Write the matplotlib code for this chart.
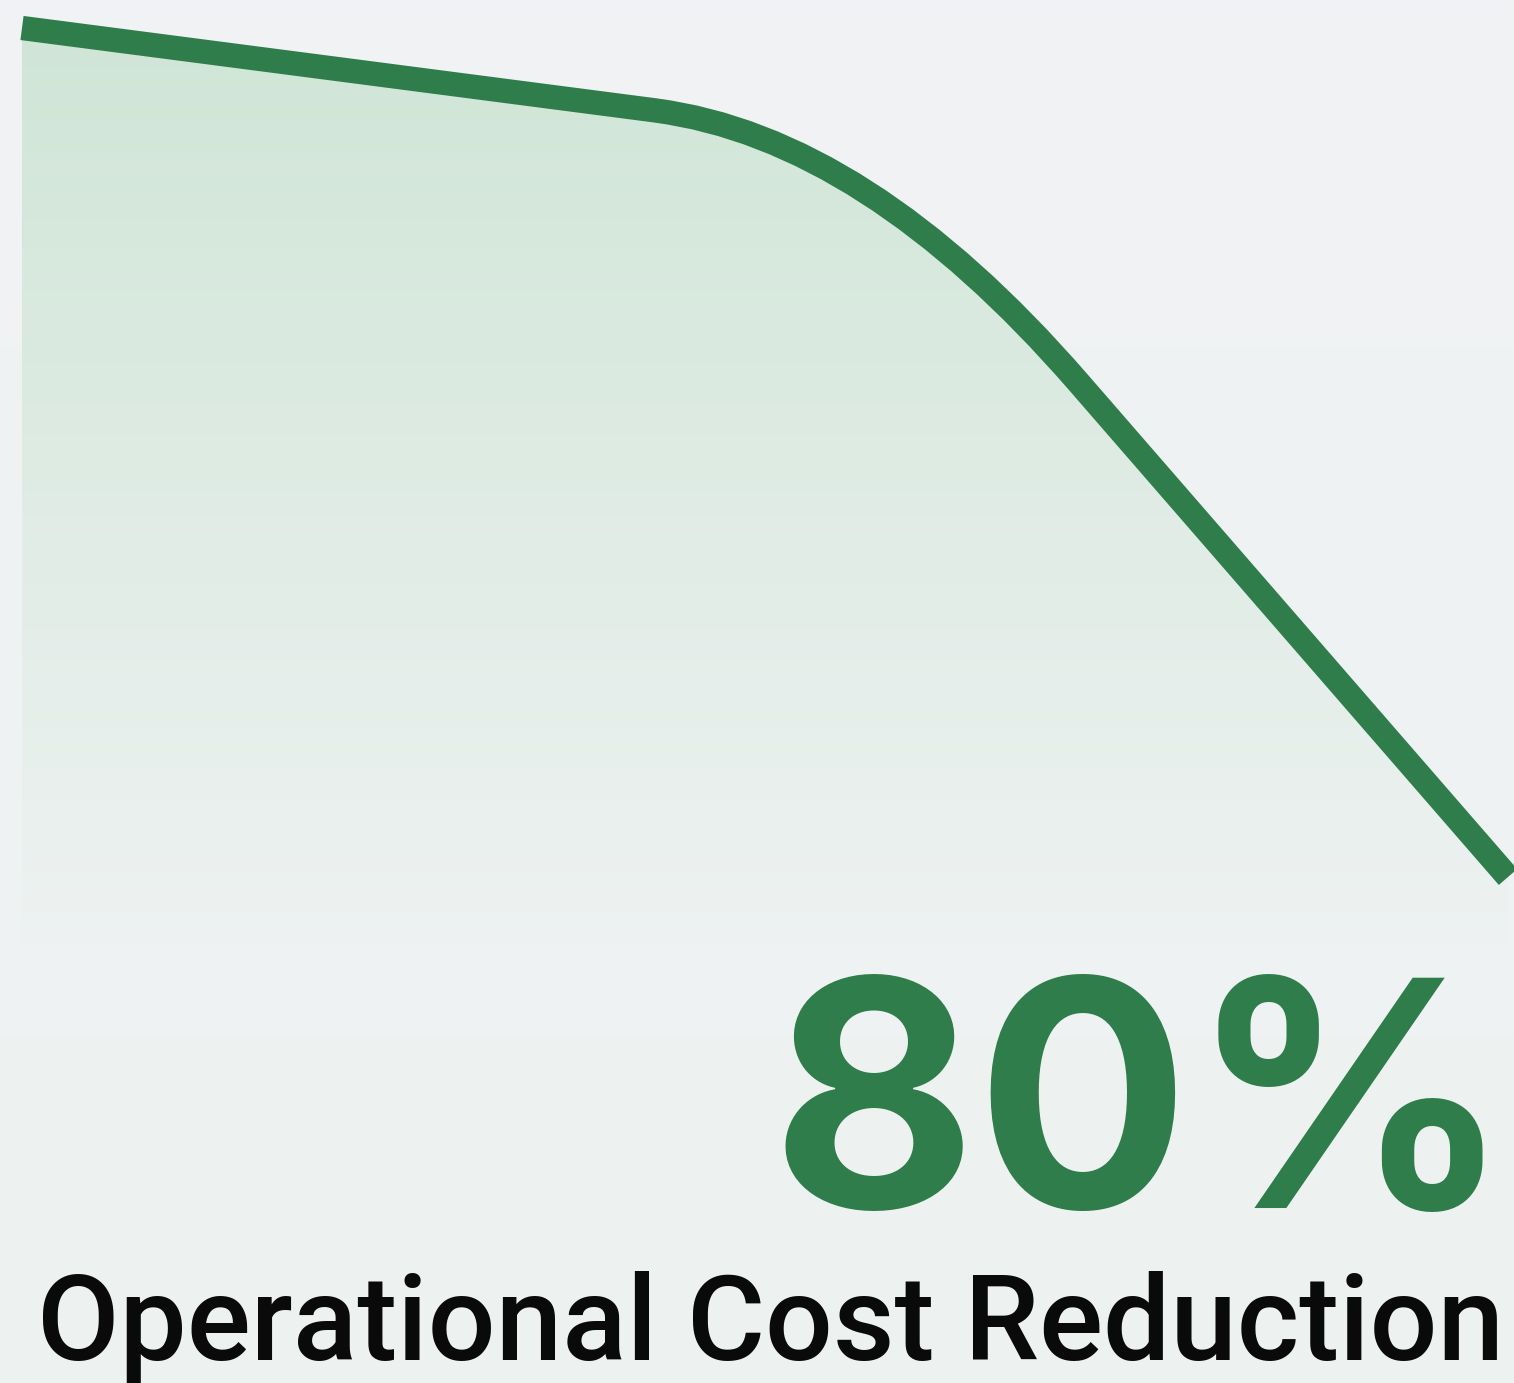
import numpy as np
import matplotlib.pyplot as plt
import matplotlib.colors as mcolors
from matplotlib.path import Path
from matplotlib.patches import PathPatch

# -------------------
# DATA (cost as % of the starting level over the time span)
# -------------------
time_pct = [0, 56.8, 100]
cost_pct = [100, 89.65, 20]
big_number = "80%"
caption = "Operational Cost Reduction"

# -------------------
# STYLE
# -------------------
W, H, DPI = 1514, 1383, 100
LINE_COLOR = '#2e7d4b'
FILL_RGB = (0.76, 0.88, 0.79)
BG_TOP = '#f1f2f5'
BG_BOTTOM = '#edf3f1'
ROUND_IN, ROUND_OUT = 0.25, 0.33   # how much of each segment the knee rounding eats

fig = plt.figure(figsize=(W / DPI, H / DPI), dpi=DPI)
ax = fig.add_axes([0, 0, 1, 1])

# axis limits so x 0..100 -> px 22..1508 and cost 100..20 -> px 28..877
px_x = (1508 - 22) / 100
px_y = (877 - 28) / 80
x0 = -22 / px_x
x1 = 100 + (W - 1508) / px_x
y_top = 100 + 28 / px_y
y_bot = 100 - (H - 28) / px_y
ax.set_xlim(x0, x1)
ax.set_ylim(y_bot, y_top)
ax.axis('off')

# background: soft vertical gradient
t = np.linspace(0, 1, 256)[:, None, None]
c_top = np.array(mcolors.to_rgb(BG_TOP))
c_bot = np.array(mcolors.to_rgb(BG_BOTTOM))
bg_img = c_top * (1 - t) + c_bot * t
ax.imshow(np.broadcast_to(bg_img, (256, 2, 3)), extent=[x0, x1, y_bot, y_top],
          aspect='auto', zorder=0)

# line path: straight segments with a rounded knee (quadratic bezier)
p0 = np.array([time_pct[0], cost_pct[0]])
k = np.array([time_pct[1], cost_pct[1]])
p2 = np.array([time_pct[2], cost_pct[2]])
a = k + ROUND_IN * (p0 - k)
b = k + ROUND_OUT * (p2 - k)
verts = [p0, a, k, b, p2]
codes = [Path.MOVETO, Path.LINETO, Path.CURVE3, Path.CURVE3, Path.LINETO]
line_path = Path(verts, codes)

# area under the curve, filled with a fading green
area_path = Path(verts + [(p2[0], y_bot), (p0[0], y_bot), p0],
                 codes + [Path.LINETO, Path.LINETO, Path.CLOSEPOLY])
n = 400
ys = np.linspace(y_top, y_bot, n)
y_fade = 100 - (950 - 28) / px_y
alpha = np.clip(0.7 * (ys - y_fade) / (100 - y_fade), 0, 0.7)
grad = np.zeros((n, 2, 4))
grad[..., 0], grad[..., 1], grad[..., 2] = FILL_RGB
grad[..., 3] = alpha[:, None]
im = ax.imshow(grad, extent=[0, 100, y_bot, y_top], aspect='auto', zorder=1,
               interpolation='bilinear')
im.set_clip_path(area_path, transform=ax.transData)

ax.add_patch(PathPatch(line_path, facecolor='none', edgecolor=LINE_COLOR, lw=17.5,
                       capstyle='butt', joinstyle='round', zorder=3))

fig.text(1512 / W, 1 - 1208 / H, big_number, ha='right', va='baseline',
         fontsize=228, fontweight='bold', family='Inter', color=LINE_COLOR)
fig.text(37 / W, 1 - 1360 / H, caption, ha='left', va='baseline',
         fontsize=86.0, fontweight='medium', family='Roboto', color='#0a0a0a')

fig.savefig('out.png', dpi=DPI)
